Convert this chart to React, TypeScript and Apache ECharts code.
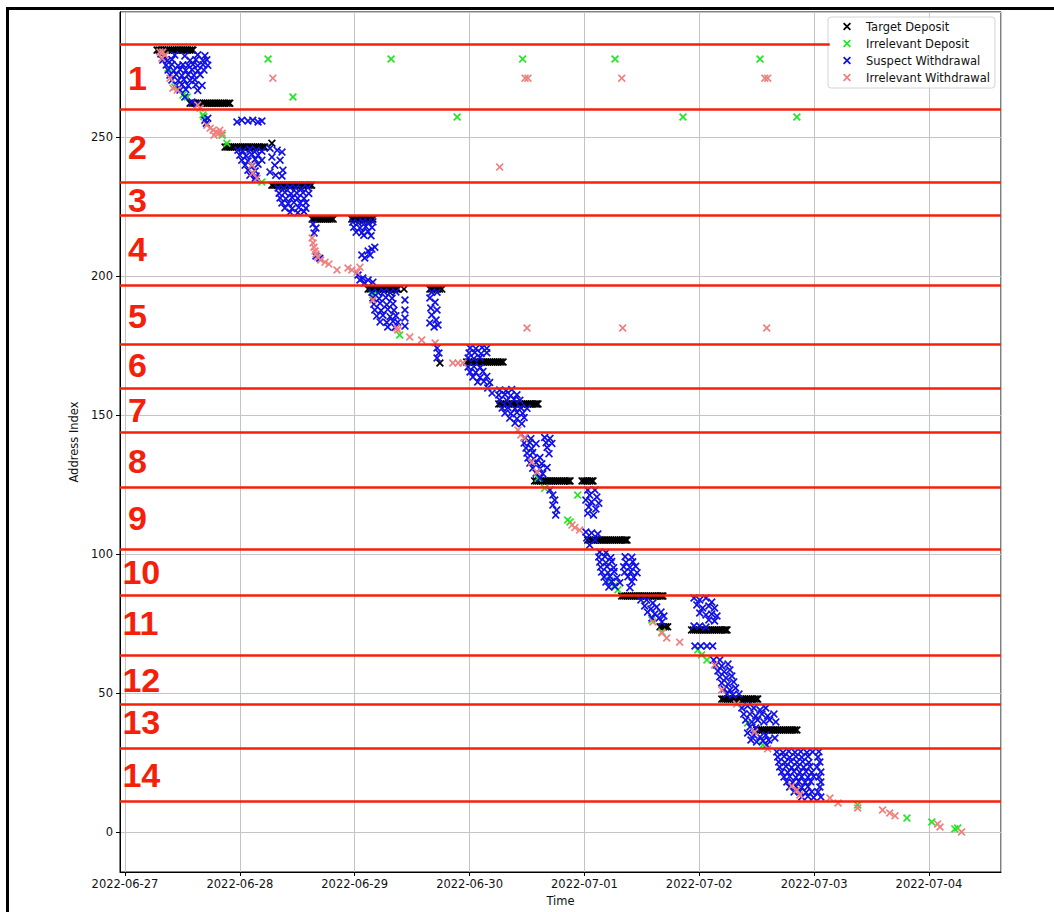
import { useEffect, useRef } from "react";
import * as echarts from "echarts";

// x values are hours after 2022-06-27 00:00, y values are address indices
const BASE_DATE = Date.UTC(2022, 5, 27);
const X_MIN_DAYS = -0.0435;
const X_MAX_DAYS = 7.627;
const Y_MIN = -14.4;
const Y_MAX = 295;

const SERIES_NAMES = ["Target Deposit", "Irrelevant Deposit", "Suspect Withdrawal", "Irrelevant Withdrawal"];
const SERIES_COLORS = ["#000000", "#22e622", "#1010e6", "#f08080"];

// Target deposits: each row is [address index, hours of the deposits]
const TARGET_DEPOSIT_ROWS: [number, number[]][] = [
  [281.3, [6.7, 7.1, 7.5, 7.9, 8.3, 8.7, 9.1, 9.5, 9.9, 10.3, 10.7, 11.1, 11.5, 11.9, 12.3, 12.7, 13.1, 13.5, 13.9, 14.2]],
  [262.2, [13.6, 14.0, 14.4, 14.8, 15.2, 15.6, 16.0, 16.4, 16.8, 17.2, 17.6, 18.0, 18.4, 18.8, 19.2, 19.6, 20.0, 20.4, 20.8, 21.2, 21.6, 21.9]],
  [246.4, [20.9, 21.3, 21.7, 22.1, 22.5, 22.9, 23.3, 23.7, 24.1, 24.5, 24.9, 25.3, 25.7, 26.1, 26.5, 26.9, 27.3, 27.7, 28.1, 28.5, 28.9, 29.2]],
  [247.8, [30.7]],
  [232.7, [30.7, 31.1, 31.5, 31.9, 32.3, 32.7, 33.1, 33.5, 33.9, 34.3, 34.7, 35.1, 35.5, 35.9, 36.3, 36.7, 37.1, 37.5, 37.9, 38.3, 38.7, 39.0]],
  [220.5, [39.1, 39.5, 39.9, 40.3, 40.7, 41.1, 41.5, 41.9, 42.3, 42.7, 43.1, 43.5]],
  [220.5, [47.4, 47.8, 48.2, 48.6, 49.0, 49.4, 49.8, 50.2, 50.6, 51.0, 51.4, 51.8]],
  [195.3, [50.8, 51.2, 51.6, 52.0, 52.4, 52.8, 53.2, 53.6, 54.0, 54.4, 54.8, 55.2, 55.6, 56.0, 56.4, 56.8, 57.0, 58.3, 63.7, 64.1, 64.5, 64.9, 65.3, 65.7, 66.2]],
  [168.7, [65.8]],
  [169.1, [71.4, 71.8, 72.2, 72.6, 73.0, 73.4, 73.8, 74.2, 74.6, 75.0, 75.4, 75.8, 76.2, 76.6, 77.0, 77.4, 77.8, 78.2, 78.6, 79.0]],
  [154.0, [78.1, 78.5, 78.9, 79.3, 79.7, 80.1, 80.5, 80.9, 81.3, 81.7, 82.1, 82.5, 82.9, 83.3, 83.7, 84.1, 84.5, 84.9, 85.3, 85.7, 86.0, 86.3]],
  [126.3, [85.6, 86.0, 86.4, 86.8, 87.2, 87.6, 88.0, 88.4, 88.8, 89.2, 89.6, 90.0, 90.4, 90.8, 91.2, 91.6, 92.0, 92.4, 92.8, 93.0, 95.5, 95.9, 96.3, 96.7, 97.1, 97.5, 97.8]],
  [105.0, [96.7, 97.1, 97.5, 97.9, 98.3, 98.7, 99.1, 99.5, 99.9, 100.3, 100.7, 101.1, 101.5, 101.9, 102.3, 102.7, 103.1, 103.5, 103.9, 104.3, 104.6, 104.9]],
  [84.9, [103.8, 104.2, 104.6, 105.0, 105.4, 105.8, 106.2, 106.6, 107.0, 107.4, 107.8, 108.2, 108.6, 109.0, 109.4, 109.8, 110.2, 110.6, 111.0, 111.4, 111.8, 112.1, 112.4]],
  [73.8, [111.8, 112.2, 112.6, 113.0, 113.4]],
  [72.7, [118.4, 118.8, 119.2, 119.6, 120.0, 120.4, 120.8, 121.2, 121.6, 122.0, 122.4, 122.8, 123.2, 123.6, 124.0, 124.4, 124.8, 125.2, 125.5, 125.8]],
  [47.8, [124.7, 125.1, 125.5, 125.9, 126.3, 126.7, 127.1, 127.5, 127.9, 128.3, 128.7, 129.1, 129.5, 129.9, 130.3, 130.7, 131.1, 131.5, 131.9, 132.2]],
  [36.7, [132.0, 132.4, 132.8, 133.2, 133.6, 134.0, 134.4, 134.8, 135.2, 135.6, 136.0, 136.4, 136.8, 137.2, 137.6, 138.0, 138.4, 138.8, 139.2, 139.6, 140.0, 140.4]],
];

const IRRELEVANT_DEPOSIT: [number, number][] = [
  [29.9, 278.1], [55.6, 278.1], [83.1, 278.1], [102.4, 278.1], [132.7, 278.1],
  [35.1, 264.4], [69.4, 257.2], [116.6, 257.2], [140.4, 257.2],
  [9.0, 274.8], [10.4, 268.0], [12.1, 265.1], [13.0, 264.4], [16.3, 258.0], [16.5, 257.3],
  [20.3, 250.7], [21.3, 247.8], [28.6, 233.8], [51.8, 193.2], [57.4, 178.8],
  [86.3, 127.3], [87.7, 123.7], [94.6, 121.2], [92.5, 112.2], [93.0, 111.5],
  [101.3, 90.6], [102.2, 88.5], [103.0, 87.1], [110.1, 76.3], [112.2, 71.9],
  [119.7, 65.5], [120.5, 63.7], [121.6, 61.9], [130.1, 39.2], [133.3, 31.3],
  [138.9, 16.2], [153.1, 9.7], [163.4, 5.0], [168.6, 3.6], [173.4, 1.1], [174.0, 1.4],
];

const SUSPECT_WITHDRAWAL: [number, number][] = [
  // section 1
  [10.4, 279.5], [12.5, 279.2], [15.2, 279.6], [16.7, 279.3], [7.5, 279.9], [8.1, 279.1],
  [7.9, 277.7], [8.8, 277.4], [9.8, 277.9], [13.6, 277.6], [14.8, 277.8], [16.3, 277.5], [17.1, 277.8],
  [8.6, 275.9], [9.8, 276.1], [11.1, 275.7], [12.1, 276.0], [13.2, 275.8], [14.2, 276.1], [15.2, 275.7], [16.3, 276.0], [17.3, 275.8],
  [9.0, 274.1], [10.2, 273.9], [11.5, 274.3], [12.7, 274.0], [14.0, 274.2], [15.2, 273.9], [16.5, 274.1],
  [9.4, 272.3], [10.7, 272.5], [11.9, 272.1], [13.2, 272.4], [14.4, 272.2], [15.7, 272.4],
  [9.8, 270.5], [11.1, 270.3], [12.3, 270.7], [13.6, 270.4], [14.6, 270.6],
  [10.7, 268.7], [11.9, 268.9], [13.2, 268.5], [14.8, 268.8], [16.1, 268.6],
  [11.5, 266.9], [12.7, 267.1], [15.2, 266.8],
  [12.5, 264.4], [14.0, 262.6], [15.0, 261.9],
  // section 2
  [16.7, 256.1], [17.3, 256.8], [17.0, 255.0],
  [23.4, 255.4], [24.4, 256.1], [25.7, 255.8], [26.7, 256.1], [27.8, 255.4], [28.6, 255.8],
  [23.6, 245.3], [24.6, 245.0], [26.1, 245.6], [27.4, 245.3], [28.6, 244.9],
  [24.0, 243.5], [25.3, 243.2], [26.5, 243.8], [27.8, 243.5],
  [24.4, 241.7], [25.7, 241.4], [27.2, 242.0], [28.6, 241.7],
  [25.1, 239.9], [26.5, 239.6], [27.8, 240.2],
  [25.7, 238.1], [27.2, 237.8], [26.1, 236.3], [27.4, 236.0], [27.2, 235.2],
  [30.3, 246.0], [31.8, 245.3], [32.8, 244.6], [30.7, 242.8], [32.4, 241.7], [31.3, 239.9],
  [33.0, 238.1], [30.3, 237.4], [31.5, 236.3], [32.8, 236.0],
  // section 3
  [32.0, 231.7], [33.2, 231.5], [34.5, 231.9], [35.7, 231.7], [36.9, 231.4], [38.2, 231.8],
  [32.2, 229.8], [33.4, 230.1], [34.7, 229.6], [35.9, 229.9], [37.2, 230.0], [38.4, 229.7],
  [32.4, 228.1], [33.6, 227.8], [34.9, 228.3], [36.1, 228.0], [37.4, 227.9],
  [32.8, 226.3], [34.1, 226.0], [35.3, 226.5], [36.6, 226.2], [37.8, 226.4],
  [33.4, 224.5], [34.9, 224.2], [36.3, 224.7], [37.8, 224.4],
  [34.5, 223.0], [36.1, 222.8], [37.4, 223.2],
  // section 4
  [39.3, 218.7], [39.9, 217.3], [39.5, 215.5], [39.9, 207.2], [40.7, 206.4],
  [47.6, 219.4], [48.7, 219.2], [49.7, 219.6], [50.8, 219.3], [51.8, 219.5],
  [47.8, 217.6], [49.1, 217.3], [50.3, 217.8], [51.6, 217.5],
  [48.3, 215.8], [49.5, 215.6], [50.8, 216.0], [49.9, 214.7], [51.4, 214.5],
  [49.5, 207.6], [50.8, 209.0], [51.6, 209.7], [52.2, 210.4], [50.1, 206.5], [51.2, 207.6],
  [48.7, 200.4], [49.7, 199.3], [50.8, 198.6], [51.8, 197.8], [50.1, 197.5], [49.1, 198.6],
  // section 5
  [51.6, 194.2], [52.9, 194.0], [54.1, 194.4], [55.4, 194.1], [56.6, 194.3],
  [51.8, 192.1], [53.1, 191.9], [54.5, 192.3], [55.8, 192.0],
  [52.0, 189.9], [53.3, 190.2], [54.7, 189.7], [56.0, 190.0],
  [52.2, 187.8], [53.5, 187.6], [54.9, 188.0], [56.2, 187.7],
  [52.6, 185.6], [53.9, 185.9], [55.4, 185.4], [56.6, 185.7],
  [53.3, 183.5], [54.7, 183.3], [56.0, 183.7], [57.0, 183.4],
  [54.9, 181.7], [56.4, 181.5],
  [58.5, 191.4], [58.5, 187.8], [58.5, 184.9], [58.5, 182.0],
  [64.1, 194.2], [65.2, 194.2], [63.7, 192.1], [64.8, 190.6], [63.9, 188.5], [65.2, 187.8],
  [64.1, 186.0], [65.0, 184.2], [63.7, 183.1], [64.6, 181.7], [65.4, 182.4],
  // section 6
  [65.2, 174.1], [65.6, 172.3], [65.2, 170.5],
  [72.1, 174.1], [73.3, 173.9], [74.6, 174.3], [75.6, 174.0],
  [71.9, 172.3], [73.1, 172.5], [74.4, 172.1], [75.6, 172.4],
  [71.7, 170.5], [72.9, 170.3], [74.2, 170.7],
  [71.7, 167.3], [72.9, 167.5], [74.2, 167.1],
  [72.1, 165.5], [73.3, 165.3], [74.8, 165.7],
  [72.7, 163.7], [74.2, 163.5], [75.6, 163.9],
  [73.7, 161.9], [75.0, 162.1], [76.2, 161.7],
  // section 7
  [75.8, 159.7], [76.7, 157.9],
  [78.3, 159.0], [79.6, 158.8], [80.8, 159.2],
  [78.1, 157.2], [79.4, 157.4], [80.6, 157.0], [81.9, 157.3],
  [78.3, 155.4], [79.8, 155.2], [81.3, 155.6], [82.5, 155.3],
  [78.8, 152.5], [80.0, 152.7], [81.5, 152.3], [82.7, 152.6], [84.0, 152.4],
  [79.4, 150.7], [80.6, 150.5], [81.9, 150.9], [83.1, 150.6],
  [80.4, 148.9], [81.9, 148.7], [83.4, 149.1], [81.5, 147.1], [82.9, 146.9],
  // section 8
  [83.6, 141.7], [84.8, 141.5], [87.7, 141.9], [88.8, 141.6],
  [83.4, 139.9], [84.6, 140.1], [85.9, 139.7], [88.0, 140.0], [89.2, 139.8],
  [83.8, 138.1], [85.0, 137.9], [88.2, 138.3],
  [84.0, 136.3], [85.2, 136.5], [88.6, 136.1],
  [84.2, 134.5], [85.4, 134.3], [86.7, 134.7],
  [84.6, 132.7], [85.9, 132.9], [87.1, 132.5],
  [85.2, 130.9], [86.7, 130.7], [88.2, 131.1],
  [85.9, 129.1], [87.3, 128.9], [86.7, 127.3],
  // section 9
  [88.8, 123.0], [89.4, 121.2], [89.8, 119.4], [89.4, 117.6], [90.2, 115.8], [90.0, 114.0],
  [96.7, 123.0], [98.2, 123.0], [97.1, 121.2], [98.6, 120.5], [96.3, 119.4], [97.5, 118.7],
  [99.0, 118.3], [96.9, 116.9], [98.4, 116.2], [96.7, 114.7], [97.9, 114.0],
  [96.3, 107.9], [97.5, 107.6], [98.8, 107.2], [96.5, 105.8], [98.2, 105.0], [97.1, 103.2],
  // section 10
  [99.2, 100.7], [100.5, 100.5],
  [99.0, 98.9], [100.3, 99.1], [101.5, 98.7], [104.5, 99.0], [105.9, 98.8],
  [99.2, 97.1], [100.5, 96.9], [101.7, 97.3], [104.7, 97.0], [106.1, 97.2],
  [99.4, 95.3], [100.7, 95.5], [102.1, 95.1], [104.2, 95.4], [105.5, 95.2], [106.7, 95.6],
  [99.6, 93.5], [100.9, 93.3], [102.2, 93.7], [104.4, 93.4], [105.7, 93.6], [107.0, 93.3],
  [100.1, 91.7], [101.3, 91.9], [102.8, 91.5], [105.1, 91.8], [106.3, 91.6],
  [100.5, 89.9], [101.7, 90.1], [103.4, 89.7], [105.9, 90.0],
  [101.1, 88.1], [102.4, 88.3], [105.5, 87.9],
  // section 11
  [107.8, 83.5], [109.0, 83.5], [110.3, 82.4], [108.6, 81.3], [109.9, 80.2], [111.1, 80.9],
  [109.2, 79.1], [110.7, 78.4], [112.0, 79.1], [110.1, 77.0], [111.6, 77.0], [112.6, 77.7], [112.2, 75.5],
  [118.9, 84.2], [120.1, 83.5], [121.4, 84.2], [122.6, 82.7], [119.5, 81.7], [120.7, 80.6],
  [122.0, 81.3], [123.2, 80.6], [120.1, 78.8], [121.4, 78.1], [122.6, 78.4], [123.7, 77.7],
  [122.0, 76.3], [123.2, 75.9], [118.9, 74.1], [120.1, 74.1], [121.4, 73.7],
  [119.1, 66.9], [120.3, 66.9], [121.6, 66.9], [122.8, 66.9],
  // section 12
  [123.0, 61.9], [124.3, 61.9], [123.5, 60.1], [124.7, 59.7], [126.0, 60.4], [123.9, 57.9],
  [125.2, 57.6], [126.4, 58.3], [124.3, 55.8], [125.6, 55.4], [126.8, 56.1], [124.7, 53.6],
  [126.0, 53.2], [127.2, 54.0], [125.2, 51.4], [126.4, 51.1], [127.6, 51.8], [125.8, 49.6],
  [127.0, 49.3], [128.3, 49.6],
  // section 13
  [128.9, 44.6], [130.1, 45.3], [131.4, 44.6], [132.7, 43.9], [133.9, 44.6],
  [129.3, 42.4], [130.6, 42.4], [131.8, 41.7], [133.1, 42.4], [134.3, 41.7], [135.6, 42.4],
  [129.7, 40.3], [131.0, 39.6], [132.2, 40.3], [133.5, 39.6], [134.7, 40.3], [136.0, 39.6],
  [130.6, 37.8], [131.8, 37.4], [130.1, 35.6], [131.4, 34.9], [132.7, 34.2], [133.9, 34.9],
  [130.8, 33.1], [132.0, 32.4], [133.3, 32.7], [134.5, 33.1], [135.8, 33.8], [134.1, 31.3],
  // section 14
  [136.2, 28.8], [137.5, 28.6], [138.7, 29.0], [140.0, 28.7], [141.2, 28.9], [142.5, 28.6], [143.7, 28.8], [145.0, 28.9],
  [136.4, 27.0], [137.7, 27.2], [138.9, 26.8], [140.2, 27.1], [141.4, 26.9], [142.7, 27.2], [144.8, 27.0],
  [136.6, 25.2], [137.9, 25.0], [139.1, 25.4], [140.4, 25.1], [141.6, 25.3], [142.9, 25.0], [145.2, 25.2],
  [136.8, 23.4], [138.1, 23.6], [139.3, 23.2], [140.6, 23.5], [141.8, 23.3], [143.1, 23.6], [144.6, 23.4],
  [137.2, 21.6], [138.5, 21.4], [139.8, 21.8], [141.0, 21.5], [142.3, 21.7], [143.5, 21.4], [145.4, 21.6],
  [137.7, 19.8], [138.9, 20.0], [140.2, 19.6], [141.4, 19.9], [142.7, 19.7], [143.9, 20.0], [145.0, 19.8],
  [138.3, 18.0], [139.5, 17.8], [140.8, 18.2], [142.1, 17.9], [143.3, 18.1], [145.4, 18.0],
  [138.9, 16.2], [140.2, 16.4], [141.4, 16.0], [142.7, 16.3], [145.2, 16.2],
  [139.8, 14.4], [141.0, 14.6], [142.3, 14.2], [143.5, 14.5], [144.8, 14.4],
  [141.4, 12.6], [142.7, 12.8], [143.9, 12.4], [145.4, 12.6],
];

const IRRELEVANT_WITHDRAWAL: [number, number][] = [
  [30.9, 271.2], [83.6, 271.2], [84.2, 271.2], [103.8, 271.2], [133.7, 271.2], [134.3, 271.2],
  [78.3, 239.2], [84.0, 181.3], [104.0, 181.3], [134.1, 181.3],
  [7.3, 280.6], [7.9, 280.6], [8.4, 279.5], [7.7, 278.4], [9.4, 271.2], [10.0, 267.6], [10.9, 266.9],
  [15.2, 261.5], [15.7, 260.4],
  [17.1, 254.3], [17.8, 253.2], [18.4, 252.5], [19.0, 251.8], [19.6, 251.4], [20.3, 251.4], [18.6, 250.7], [19.8, 252.5],
  [26.5, 239.9], [26.7, 237.1], [27.6, 235.2],
  [39.1, 213.7], [39.3, 211.9], [39.5, 210.4], [39.7, 209.0], [39.9, 207.9], [40.3, 206.8], [40.9, 205.8],
  [41.8, 205.0], [42.6, 204.3], [44.3, 202.2], [46.6, 202.9], [47.4, 202.2], [48.5, 201.4], [49.1, 203.2],
  [51.8, 191.4], [56.8, 181.3], [57.0, 180.6], [59.5, 178.1], [62.0, 177.0], [64.8, 175.9],
  [68.5, 168.7], [69.6, 168.7], [70.6, 168.7],
  [82.1, 144.6], [82.7, 142.8], [83.4, 141.7], [85.0, 133.1], [86.1, 129.5],
  [93.4, 110.4], [94.0, 109.5], [95.0, 108.6],
  [110.3, 75.5], [112.2, 71.6], [113.2, 69.8], [115.9, 68.3],
  [123.2, 60.1], [124.7, 51.1], [127.8, 46.0], [131.6, 36.0], [134.3, 29.9],
  [139.3, 16.5], [140.4, 15.1], [141.0, 13.3], [147.3, 12.2], [149.0, 10.4], [153.1, 8.6],
  [158.3, 7.9], [159.8, 6.8], [160.9, 5.8], [169.8, 2.9], [170.3, 1.8], [174.8, 0],
];

// Section boundaries (address index) and the section numbers between them
const SECTION_BOUNDARIES = [283.3, 260.0, 233.7, 222.0, 196.8, 175.5, 159.7, 143.9, 124.1, 101.8, 85.3, 63.7, 46.1, 30.0, 11.2];
const SECTION_LABELS = ["1", "2", "3", "4", "5", "6", "7", "8", "9", "10", "11", "12", "13", "14"];
const SECTION_LABEL_Y = [271.2, 246.4, 227.3, 209.7, 185.6, 168.0, 151.8, 133.5, 113.0, 93.5, 75.2, 54.7, 39.6, 20.5];

const CROSS =
  "path://M0,1.5L1.5,0L5,3.5L8.5,0L10,1.5L6.5,5L10,8.5L8.5,10L5,6.5L1.5,10L0,8.5L3.5,5Z";
const SECTION_RED = "#f5200a";
const AXIS_FONT = "DejaVu Sans";

const toDays = (pts: [number, number][]) => pts.map(([h, y]) => [h / 24, y]);

function buildOption() {
  const targetDeposit: [number, number][] = [];
  TARGET_DEPOSIT_ROWS.forEach(([idx, hours]) => hours.forEach((h) => targetDeposit.push([h, idx])));
  const seriesData = [targetDeposit, IRRELEVANT_DEPOSIT, SUSPECT_WITHDRAWAL, IRRELEVANT_WITHDRAWAL];

  const pointSeries = SERIES_NAMES.map((name, i) => ({
    name,
    type: "scatter",
    data: toDays(seriesData[i]),
    symbol: CROSS,
    symbolSize: 8,
    itemStyle: { color: SERIES_COLORS[i], opacity: 1 },
    emphasis: { disabled: true },
    z: 2,
  }));

  const [first, ...rest] = SECTION_BOUNDARIES;
  const sectionSeries = {
    name: "sections",
    type: "scatter",
    z: 3,
    symbolSize: 1,
    itemStyle: { color: "rgba(0,0,0,0)", opacity: 1 },
    silent: true,
    data: SECTION_LABELS.map((t, i) => ({
      name: t,
      value: [t.length > 1 ? -0.027 : 0.021, SECTION_LABEL_Y[i]],
    })),
    label: {
      show: true,
      position: "right",
      distance: 0,
      formatter: "{b}",
      color: SECTION_RED,
      opacity: 1,
      fontSize: 34,
      fontWeight: "bold",
      fontFamily: "Liberation Sans, Arial, sans-serif",
    },
    markLine: {
      silent: true,
      symbol: ["none", "none"],
      label: { show: false },
      lineStyle: { color: SECTION_RED, width: 2.5, type: "solid", opacity: 1 },
      data: [
        [{ coord: [X_MIN_DAYS, first] }, { coord: [6.136, first] }],
        ...rest.map((v) => ({ yAxis: v })),
      ],
    },
  };

  return {
    animation: false,
    backgroundColor: "#ffffff",
    grid: { left: 120, right: 53, top: 12, bottom: 40, show: true, borderColor: "#000", borderWidth: 1 },
    legend: {
      data: SERIES_NAMES,
      orient: "vertical",
      left: 828,
      top: 17,
      itemWidth: 28,
      itemHeight: 8,
      itemGap: 4,
      padding: [3, 5, 4, 15],
      backgroundColor: "rgba(255,255,255,0.8)",
      borderColor: "#d4d4d4",
      borderWidth: 1,
      borderRadius: 3,
      textStyle: { fontSize: 11.5, color: "#111", fontFamily: AXIS_FONT, lineHeight: 13 },
    },
    xAxis: {
      type: "value",
      min: X_MIN_DAYS,
      max: X_MAX_DAYS,
      splitNumber: 8,
      minInterval: 1,
      maxInterval: 1,
      name: "Time",
      nameLocation: "middle",
      nameGap: 22,
      nameTextStyle: { fontSize: 11.5, color: "#111", fontFamily: AXIS_FONT },
      axisLine: { show: true, onZero: false, lineStyle: { color: "#000", width: 1 } },
      axisTick: { show: true, length: 4, lineStyle: { color: "#000" } },
      axisLabel: {
        fontSize: 11.5,
        color: "#111",
        fontFamily: AXIS_FONT,
        margin: 6,
        showMinLabel: false,
        showMaxLabel: false,
        formatter: (v: number) => {
          if (Math.abs(v - Math.round(v)) > 1e-6) return "";
          return new Date(BASE_DATE + Math.round(v) * 86400000).toISOString().slice(0, 10);
        },
      },
      splitLine: { show: true, lineStyle: { color: "#c4c4c4", width: 1 } },
    },
    yAxis: {
      type: "value",
      min: Y_MIN,
      max: Y_MAX,
      splitNumber: 5,
      minInterval: 50,
      maxInterval: 50,
      name: "Address Index",
      nameLocation: "middle",
      nameGap: 34,
      nameRotate: 90,
      nameTextStyle: { fontSize: 11.5, color: "#111", fontFamily: AXIS_FONT },
      axisLine: { show: true, onZero: false, lineStyle: { color: "#000", width: 1 } },
      axisTick: { show: true, length: 4, lineStyle: { color: "#000" } },
      axisLabel: {
        fontSize: 11.5,
        color: "#111",
        fontFamily: AXIS_FONT,
        margin: 7,
        showMinLabel: false,
        showMaxLabel: false,
        formatter: (v: number) => (Math.abs(v / 50 - Math.round(v / 50)) < 1e-6 ? String(Math.round(v)) : ""),
      },
      splitLine: { show: true, lineStyle: { color: "#c4c4c4", width: 1 } },
    },
    series: [...pointSeries, sectionSeries],
  };
}

export default function App() {
  const ref = useRef<HTMLDivElement>(null);
  useEffect(() => {
    if (!ref.current) return;
    const chart = echarts.init(ref.current, null, { renderer: "svg" });
    chart.setOption(buildOption() as any);
    return () => chart.dispose();
  }, []);
  return (
    <>
      <div
        ref={ref}
        style={{ position: "fixed", left: 0, top: 0, width: 1054, height: 912, background: "#fff" }}
      />
      <div
        style={{
          position: "fixed",
          left: 6,
          top: 7,
          width: 1048,
          height: 905,
          borderTop: "3px solid #000",
          borderLeft: "3px solid #000",
          boxSizing: "border-box",
          pointerEvents: "none",
        }}
      />
    </>
  );
}
